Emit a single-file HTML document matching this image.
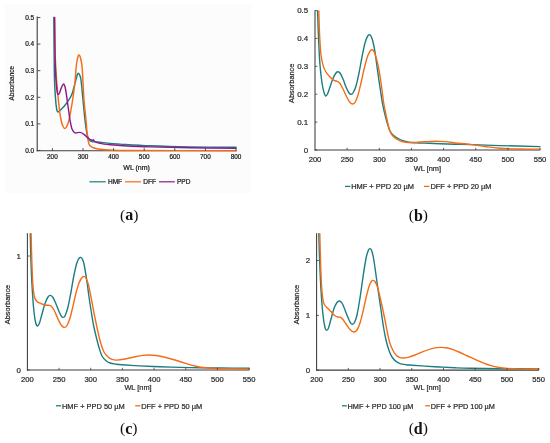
<!DOCTYPE html>
<html><head><meta charset="utf-8"><title>UV-Vis absorbance spectra</title>
<style>html,body{margin:0;padding:0;background:#fff;}svg{display:block;}</style></head>
<body>
<svg width="550" height="443" viewBox="0 0 550 443">
<rect x="0" y="0" width="550" height="443" fill="#ffffff"/>
<rect x="5" y="4" width="246" height="189" fill="#fcfcfc"/>
<line x1="37.20" y1="16.50" x2="37.20" y2="151.30" stroke="#3c3c3c" stroke-width="1.1"/>
<line x1="36.70" y1="150.80" x2="236.50" y2="150.80" stroke="#3c3c3c" stroke-width="1.1"/>
<path d="M53.80,17.50 C53.85,22.92 53.98,39.58 54.10,50.00 C54.22,60.42 54.27,72.00 54.50,80.00 C54.73,88.00 55.17,93.33 55.50,98.00 C55.83,102.67 56.08,105.67 56.50,108.00 C56.92,110.33 57.08,111.92 58.00,112.00 C58.92,112.08 60.67,109.83 62.00,108.50 C63.33,107.17 64.67,105.75 66.00,104.00 C67.33,102.25 69.00,99.67 70.00,98.00 C71.00,96.33 71.33,95.83 72.00,94.00 C72.67,92.17 73.33,89.42 74.00,87.00 C74.67,84.58 75.43,81.57 76.00,79.50 C76.57,77.43 77.00,75.63 77.40,74.60 C77.80,73.57 78.03,73.23 78.40,73.30 C78.77,73.37 79.17,73.88 79.60,75.00 C80.03,76.12 80.43,75.83 81.00,80.00 C81.57,84.17 82.33,93.33 83.00,100.00 C83.67,106.67 84.33,114.33 85.00,120.00 C85.67,125.67 86.33,130.75 87.00,134.00 C87.67,137.25 88.17,138.23 89.00,139.50 C89.83,140.77 90.83,141.20 92.00,141.60 C93.17,142.00 94.67,141.80 96.00,141.90 C97.33,142.00 97.67,141.95 100.00,142.20 C102.33,142.45 106.67,143.08 110.00,143.40 C113.33,143.72 113.33,143.70 120.00,144.10 C126.67,144.50 138.33,145.33 150.00,145.80 C161.67,146.27 175.67,146.65 190.00,146.90 C204.33,147.15 228.33,147.23 236.00,147.30" fill="none" stroke="#1b7d80" stroke-width="1.45" stroke-linecap="round" stroke-linejoin="round"/>
<path d="M54.50,17.50 C54.62,23.75 54.85,44.58 55.20,55.00 C55.55,65.42 55.97,71.50 56.60,80.00 C57.23,88.50 58.27,99.33 59.00,106.00 C59.73,112.67 60.33,116.62 61.00,120.00 C61.67,123.38 62.33,124.87 63.00,126.30 C63.67,127.73 64.33,128.65 65.00,128.60 C65.67,128.55 66.33,127.43 67.00,126.00 C67.67,124.57 68.17,123.67 69.00,120.00 C69.83,116.33 71.00,110.33 72.00,104.00 C73.00,97.67 74.33,87.83 75.00,82.00 C75.67,76.17 75.67,72.50 76.00,69.00 C76.33,65.50 76.63,63.17 77.00,61.00 C77.37,58.83 77.83,57.00 78.20,56.00 C78.57,55.00 78.83,54.75 79.20,55.00 C79.57,55.25 79.93,55.67 80.40,57.50 C80.87,59.33 81.57,61.92 82.00,66.00 C82.43,70.08 82.67,76.33 83.00,82.00 C83.33,87.67 83.50,93.67 84.00,100.00 C84.50,106.33 85.43,114.00 86.00,120.00 C86.57,126.00 86.90,132.00 87.40,136.00 C87.90,140.00 88.40,142.25 89.00,144.00 C89.60,145.75 90.17,145.83 91.00,146.50 C91.83,147.17 92.50,147.55 94.00,148.00 C95.50,148.45 97.33,148.87 100.00,149.20 C102.67,149.53 105.00,149.78 110.00,150.00 C115.00,150.22 109.00,150.38 130.00,150.50 C151.00,150.62 218.33,150.67 236.00,150.70" fill="none" stroke="#f56c16" stroke-width="1.45" stroke-linecap="round" stroke-linejoin="round"/>
<path d="M54.60,17.50 C54.68,24.58 54.87,49.58 55.10,60.00 C55.33,70.42 55.68,74.83 56.00,80.00 C56.32,85.17 56.67,88.60 57.00,91.00 C57.33,93.40 57.58,94.07 58.00,94.40 C58.42,94.73 58.92,94.15 59.50,93.00 C60.08,91.85 60.82,89.00 61.50,87.50 C62.18,86.00 62.93,83.75 63.60,84.00 C64.27,84.25 64.77,85.33 65.50,89.00 C66.23,92.67 67.25,100.83 68.00,106.00 C68.75,111.17 69.33,116.17 70.00,120.00 C70.67,123.83 71.17,126.87 72.00,129.00 C72.83,131.13 73.67,132.23 75.00,132.80 C76.33,133.37 78.50,132.15 80.00,132.40 C81.50,132.65 82.67,133.37 84.00,134.30 C85.33,135.23 86.67,137.00 88.00,138.00 C89.33,139.00 91.07,140.00 92.00,140.30 C92.93,140.60 93.18,139.63 93.60,139.80 C94.02,139.97 93.43,140.70 94.50,141.30 C95.57,141.90 97.42,142.82 100.00,143.40 C102.58,143.98 106.67,144.45 110.00,144.80 C113.33,145.15 113.33,145.15 120.00,145.50 C126.67,145.85 138.33,146.52 150.00,146.90 C161.67,147.28 175.67,147.57 190.00,147.80 C204.33,148.03 228.33,148.22 236.00,148.30" fill="none" stroke="#8e1b8e" stroke-width="1.45" stroke-linecap="round" stroke-linejoin="round"/>
<line x1="37.20" y1="150.50" x2="40.40" y2="150.50" stroke="#3c3c3c" stroke-width="0.9"/>
<text x="34.20" y="152.80" font-size="6.5" text-anchor="end" fill="#1a1a1a" stroke="#1a1a1a" stroke-width="0.22" font-family='"Liberation Sans", sans-serif' >0.0</text>
<line x1="37.20" y1="123.90" x2="40.40" y2="123.90" stroke="#3c3c3c" stroke-width="0.9"/>
<text x="34.20" y="126.20" font-size="6.5" text-anchor="end" fill="#1a1a1a" stroke="#1a1a1a" stroke-width="0.22" font-family='"Liberation Sans", sans-serif' >0.1</text>
<line x1="37.20" y1="97.30" x2="40.40" y2="97.30" stroke="#3c3c3c" stroke-width="0.9"/>
<text x="34.20" y="99.60" font-size="6.5" text-anchor="end" fill="#1a1a1a" stroke="#1a1a1a" stroke-width="0.22" font-family='"Liberation Sans", sans-serif' >0.2</text>
<line x1="37.20" y1="70.70" x2="40.40" y2="70.70" stroke="#3c3c3c" stroke-width="0.9"/>
<text x="34.20" y="73.00" font-size="6.5" text-anchor="end" fill="#1a1a1a" stroke="#1a1a1a" stroke-width="0.22" font-family='"Liberation Sans", sans-serif' >0.3</text>
<line x1="37.20" y1="44.10" x2="40.40" y2="44.10" stroke="#3c3c3c" stroke-width="0.9"/>
<text x="34.20" y="46.40" font-size="6.5" text-anchor="end" fill="#1a1a1a" stroke="#1a1a1a" stroke-width="0.22" font-family='"Liberation Sans", sans-serif' >0.4</text>
<line x1="37.20" y1="17.50" x2="40.40" y2="17.50" stroke="#3c3c3c" stroke-width="0.9"/>
<text x="34.20" y="19.80" font-size="6.5" text-anchor="end" fill="#1a1a1a" stroke="#1a1a1a" stroke-width="0.22" font-family='"Liberation Sans", sans-serif' >0.5</text>
<line x1="52.40" y1="150.80" x2="52.40" y2="148.20" stroke="#3c3c3c" stroke-width="0.9"/>
<text x="52.40" y="158.90" font-size="6.4" text-anchor="middle" fill="#1a1a1a" stroke="#1a1a1a" stroke-width="0.22" font-family='"Liberation Sans", sans-serif' >200</text>
<line x1="83.00" y1="150.80" x2="83.00" y2="148.20" stroke="#3c3c3c" stroke-width="0.9"/>
<text x="83.00" y="158.90" font-size="6.4" text-anchor="middle" fill="#1a1a1a" stroke="#1a1a1a" stroke-width="0.22" font-family='"Liberation Sans", sans-serif' >300</text>
<line x1="113.60" y1="150.80" x2="113.60" y2="148.20" stroke="#3c3c3c" stroke-width="0.9"/>
<text x="113.60" y="158.90" font-size="6.4" text-anchor="middle" fill="#1a1a1a" stroke="#1a1a1a" stroke-width="0.22" font-family='"Liberation Sans", sans-serif' >400</text>
<line x1="144.20" y1="150.80" x2="144.20" y2="148.20" stroke="#3c3c3c" stroke-width="0.9"/>
<text x="144.20" y="158.90" font-size="6.4" text-anchor="middle" fill="#1a1a1a" stroke="#1a1a1a" stroke-width="0.22" font-family='"Liberation Sans", sans-serif' >500</text>
<line x1="174.80" y1="150.80" x2="174.80" y2="148.20" stroke="#3c3c3c" stroke-width="0.9"/>
<text x="174.80" y="158.90" font-size="6.4" text-anchor="middle" fill="#1a1a1a" stroke="#1a1a1a" stroke-width="0.22" font-family='"Liberation Sans", sans-serif' >600</text>
<line x1="205.40" y1="150.80" x2="205.40" y2="148.20" stroke="#3c3c3c" stroke-width="0.9"/>
<text x="205.40" y="158.90" font-size="6.4" text-anchor="middle" fill="#1a1a1a" stroke="#1a1a1a" stroke-width="0.22" font-family='"Liberation Sans", sans-serif' >700</text>
<line x1="236.00" y1="150.80" x2="236.00" y2="148.20" stroke="#3c3c3c" stroke-width="0.9"/>
<text x="236.00" y="158.90" font-size="6.4" text-anchor="middle" fill="#1a1a1a" stroke="#1a1a1a" stroke-width="0.22" font-family='"Liberation Sans", sans-serif' >800</text>
<text x="136.60" y="169.90" font-size="7.0" text-anchor="middle" fill="#1a1a1a" stroke="#1a1a1a" stroke-width="0.22" font-family='"Liberation Sans", sans-serif' >WL (nm)</text>
<text transform="translate(13.9,83.2) rotate(-90)" font-size="6.5" text-anchor="middle" fill="#1a1a1a" stroke="#1a1a1a" stroke-width="0.2" font-family='"Liberation Sans", sans-serif'>Absorbance</text>
<line x1="89.40" y1="181.80" x2="105.80" y2="181.80" stroke="#1b7d80" stroke-width="1.2"/>
<text x="108.00" y="184.10" font-size="6.5" text-anchor="start" fill="#1a1a1a" stroke="#1a1a1a" stroke-width="0.22" font-family='"Liberation Sans", sans-serif' >HMF</text>
<line x1="125.00" y1="181.80" x2="141.00" y2="181.80" stroke="#f56c16" stroke-width="1.2"/>
<text x="143.30" y="184.10" font-size="6.5" text-anchor="start" fill="#1a1a1a" stroke="#1a1a1a" stroke-width="0.22" font-family='"Liberation Sans", sans-serif' >DFF</text>
<line x1="159.00" y1="181.80" x2="174.80" y2="181.80" stroke="#8e1b8e" stroke-width="1.2"/>
<text x="177.00" y="184.10" font-size="6.5" text-anchor="start" fill="#1a1a1a" stroke="#1a1a1a" stroke-width="0.22" font-family='"Liberation Sans", sans-serif' >PPD</text>
<text x="129.30" y="220.20" font-size="15.6" text-anchor="middle" fill="#111" font-family='"Liberation Serif", serif'><tspan dy="-0.5">(</tspan><tspan font-weight="bold" font-size="16" dy="0.5">a</tspan><tspan dy="-0.5">)</tspan></text>
<line x1="315.00" y1="10.20" x2="315.00" y2="150.50" stroke="#3c3c3c" stroke-width="1.05"/>
<line x1="314.50" y1="150.00" x2="540.30" y2="150.00" stroke="#3c3c3c" stroke-width="1.05"/>
<path d="M317.60,11.00 C317.77,15.83 318.20,31.00 318.60,40.00 C319.00,49.00 319.43,57.83 320.00,65.00 C320.57,72.17 321.33,78.42 322.00,83.00 C322.67,87.58 323.40,90.33 324.00,92.50 C324.60,94.67 325.02,95.75 325.60,96.00 C326.18,96.25 326.77,95.50 327.50,94.00 C328.23,92.50 329.08,89.58 330.00,87.00 C330.92,84.42 332.00,80.83 333.00,78.50 C334.00,76.17 335.17,74.12 336.00,73.00 C336.83,71.88 337.33,71.80 338.00,71.80 C338.67,71.80 339.17,71.80 340.00,73.00 C340.83,74.20 342.00,76.67 343.00,79.00 C344.00,81.33 345.00,84.67 346.00,87.00 C347.00,89.33 348.17,91.78 349.00,93.00 C349.83,94.22 350.33,94.30 351.00,94.30 C351.67,94.30 352.17,94.38 353.00,93.00 C353.83,91.62 355.00,89.33 356.00,86.00 C357.00,82.67 358.00,77.83 359.00,73.00 C360.00,68.17 361.00,62.00 362.00,57.00 C363.00,52.00 364.08,46.45 365.00,43.00 C365.92,39.55 366.77,37.67 367.50,36.30 C368.23,34.93 368.78,34.77 369.40,34.80 C370.02,34.83 370.60,35.30 371.20,36.50 C371.80,37.70 372.37,39.42 373.00,42.00 C373.63,44.58 374.37,48.17 375.00,52.00 C375.63,55.83 376.20,60.67 376.80,65.00 C377.40,69.33 378.00,73.83 378.60,78.00 C379.20,82.17 379.75,85.75 380.40,90.00 C381.05,94.25 381.63,98.98 382.50,103.50 C383.37,108.02 384.72,113.52 385.60,117.10 C386.48,120.68 387.08,122.73 387.80,125.00 C388.52,127.27 389.12,129.13 389.90,130.70 C390.68,132.27 391.60,133.40 392.50,134.40 C393.40,135.40 394.30,135.98 395.30,136.70 C396.30,137.42 397.37,138.08 398.50,138.70 C399.63,139.32 400.37,139.82 402.10,140.40 C403.83,140.98 406.63,141.80 408.90,142.20 C411.17,142.60 412.32,142.62 415.70,142.80 C419.08,142.98 425.15,143.15 429.20,143.30 C433.25,143.45 435.70,143.55 440.00,143.70 C444.30,143.85 449.67,144.05 455.00,144.20 C460.33,144.35 464.50,144.37 472.00,144.60 C479.50,144.83 488.67,145.27 500.00,145.60 C511.33,145.93 533.33,146.43 540.00,146.60" fill="none" stroke="#1b7d80" stroke-width="1.4" stroke-linecap="round" stroke-linejoin="round"/>
<path d="M318.80,11.00 C318.93,15.00 319.23,27.67 319.60,35.00 C319.97,42.33 320.37,49.77 321.00,55.00 C321.63,60.23 322.57,63.57 323.40,66.40 C324.23,69.23 324.90,70.23 326.00,72.00 C327.10,73.77 328.67,75.62 330.00,77.00 C331.33,78.38 332.77,79.55 334.00,80.30 C335.23,81.05 336.40,80.97 337.40,81.50 C338.40,82.03 339.07,82.25 340.00,83.50 C340.93,84.75 341.83,86.67 343.00,89.00 C344.17,91.33 345.83,95.25 347.00,97.50 C348.17,99.75 349.07,101.42 350.00,102.50 C350.93,103.58 351.77,104.00 352.60,104.00 C353.43,104.00 354.10,104.00 355.00,102.50 C355.90,101.00 357.00,98.25 358.00,95.00 C359.00,91.75 360.00,87.25 361.00,83.00 C362.00,78.75 363.00,73.67 364.00,69.50 C365.00,65.33 366.00,61.05 367.00,58.00 C368.00,54.95 369.20,52.58 370.00,51.20 C370.80,49.82 371.13,49.65 371.80,49.70 C372.47,49.75 373.17,49.78 374.00,51.50 C374.83,53.22 375.97,56.92 376.80,60.00 C377.63,63.08 378.37,66.67 379.00,70.00 C379.63,73.33 380.10,76.67 380.60,80.00 C381.10,83.33 381.47,86.08 382.00,90.00 C382.53,93.92 383.05,98.98 383.80,103.50 C384.55,108.02 385.77,113.52 386.50,117.10 C387.23,120.68 387.65,122.73 388.20,125.00 C388.75,127.27 389.12,128.97 389.80,130.70 C390.48,132.43 391.38,134.17 392.30,135.40 C393.22,136.63 394.27,137.33 395.30,138.10 C396.33,138.87 397.37,139.43 398.50,140.00 C399.63,140.57 400.37,141.07 402.10,141.50 C403.83,141.93 406.63,142.45 408.90,142.60 C411.17,142.75 413.02,142.53 415.70,142.40 C418.38,142.27 421.78,142.00 425.00,141.80 C428.22,141.60 431.67,141.23 435.00,141.20 C438.33,141.17 441.17,141.27 445.00,141.60 C448.83,141.93 453.50,142.70 458.00,143.20 C462.50,143.70 467.50,144.05 472.00,144.60 C476.50,145.15 480.33,145.90 485.00,146.50 C489.67,147.10 494.17,147.78 500.00,148.20 C505.83,148.62 513.33,148.83 520.00,149.00 C526.67,149.17 536.67,149.17 540.00,149.20" fill="none" stroke="#f56c16" stroke-width="1.4" stroke-linecap="round" stroke-linejoin="round"/>
<line x1="315.00" y1="150.00" x2="317.40" y2="150.00" stroke="#3c3c3c" stroke-width="0.8"/>
<text x="308.20" y="152.80" font-size="7.9" text-anchor="end" fill="#2b2b2b" stroke="#2b2b2b" stroke-width="0.22" font-family='"Liberation Sans", sans-serif' >0</text>
<line x1="315.00" y1="122.10" x2="317.40" y2="122.10" stroke="#3c3c3c" stroke-width="0.8"/>
<text x="308.20" y="124.90" font-size="7.9" text-anchor="end" fill="#2b2b2b" stroke="#2b2b2b" stroke-width="0.22" font-family='"Liberation Sans", sans-serif' >0.1</text>
<line x1="315.00" y1="94.20" x2="317.40" y2="94.20" stroke="#3c3c3c" stroke-width="0.8"/>
<text x="308.20" y="97.00" font-size="7.9" text-anchor="end" fill="#2b2b2b" stroke="#2b2b2b" stroke-width="0.22" font-family='"Liberation Sans", sans-serif' >0.2</text>
<line x1="315.00" y1="66.30" x2="317.40" y2="66.30" stroke="#3c3c3c" stroke-width="0.8"/>
<text x="308.20" y="69.10" font-size="7.9" text-anchor="end" fill="#2b2b2b" stroke="#2b2b2b" stroke-width="0.22" font-family='"Liberation Sans", sans-serif' >0.3</text>
<line x1="315.00" y1="38.40" x2="317.40" y2="38.40" stroke="#3c3c3c" stroke-width="0.8"/>
<text x="308.20" y="41.20" font-size="7.9" text-anchor="end" fill="#2b2b2b" stroke="#2b2b2b" stroke-width="0.22" font-family='"Liberation Sans", sans-serif' >0.4</text>
<line x1="315.00" y1="10.60" x2="317.40" y2="10.60" stroke="#3c3c3c" stroke-width="0.8"/>
<text x="308.20" y="13.40" font-size="7.9" text-anchor="end" fill="#2b2b2b" stroke="#2b2b2b" stroke-width="0.22" font-family='"Liberation Sans", sans-serif' >0.5</text>
<text x="315.00" y="161.60" font-size="7.6000000000000005" text-anchor="middle" fill="#2b2b2b" stroke="#2b2b2b" stroke-width="0.22" font-family='"Liberation Sans", sans-serif' >200</text>
<line x1="347.14" y1="150.00" x2="347.14" y2="147.80" stroke="#3c3c3c" stroke-width="0.8"/>
<text x="347.14" y="161.60" font-size="7.6000000000000005" text-anchor="middle" fill="#2b2b2b" stroke="#2b2b2b" stroke-width="0.22" font-family='"Liberation Sans", sans-serif' >250</text>
<line x1="379.29" y1="150.00" x2="379.29" y2="147.80" stroke="#3c3c3c" stroke-width="0.8"/>
<text x="379.29" y="161.60" font-size="7.6000000000000005" text-anchor="middle" fill="#2b2b2b" stroke="#2b2b2b" stroke-width="0.22" font-family='"Liberation Sans", sans-serif' >300</text>
<line x1="411.43" y1="150.00" x2="411.43" y2="147.80" stroke="#3c3c3c" stroke-width="0.8"/>
<text x="411.43" y="161.60" font-size="7.6000000000000005" text-anchor="middle" fill="#2b2b2b" stroke="#2b2b2b" stroke-width="0.22" font-family='"Liberation Sans", sans-serif' >350</text>
<line x1="443.57" y1="150.00" x2="443.57" y2="147.80" stroke="#3c3c3c" stroke-width="0.8"/>
<text x="443.57" y="161.60" font-size="7.6000000000000005" text-anchor="middle" fill="#2b2b2b" stroke="#2b2b2b" stroke-width="0.22" font-family='"Liberation Sans", sans-serif' >400</text>
<line x1="475.71" y1="150.00" x2="475.71" y2="147.80" stroke="#3c3c3c" stroke-width="0.8"/>
<text x="475.71" y="161.60" font-size="7.6000000000000005" text-anchor="middle" fill="#2b2b2b" stroke="#2b2b2b" stroke-width="0.22" font-family='"Liberation Sans", sans-serif' >450</text>
<line x1="507.86" y1="150.00" x2="507.86" y2="147.80" stroke="#3c3c3c" stroke-width="0.8"/>
<text x="507.86" y="161.60" font-size="7.6000000000000005" text-anchor="middle" fill="#2b2b2b" stroke="#2b2b2b" stroke-width="0.22" font-family='"Liberation Sans", sans-serif' >500</text>
<line x1="540.00" y1="150.00" x2="540.00" y2="147.80" stroke="#3c3c3c" stroke-width="0.8"/>
<text x="540.00" y="161.60" font-size="7.6000000000000005" text-anchor="middle" fill="#2b2b2b" stroke="#2b2b2b" stroke-width="0.22" font-family='"Liberation Sans", sans-serif' >550</text>
<text x="427.40" y="171.00" font-size="7.4" text-anchor="middle" fill="#2b2b2b" stroke="#2b2b2b" stroke-width="0.22" font-family='"Liberation Sans", sans-serif' >WL [nm]</text>
<text transform="translate(294.00,83.30) rotate(-90)" font-size="7.4" text-anchor="middle" fill="#2b2b2b" stroke="#2b2b2b" stroke-width="0.22" font-family='"Liberation Sans", sans-serif'>Absorbance</text>
<line x1="345.00" y1="186.40" x2="350.40" y2="186.40" stroke="#1b7d80" stroke-width="1.3"/>
<text x="351.20" y="189.10" font-size="7.45" text-anchor="start" fill="#2b2b2b" stroke="#2b2b2b" stroke-width="0.22" font-family='"Liberation Sans", sans-serif' >HMF + PPD 20 µM</text>
<line x1="424.00" y1="186.40" x2="429.40" y2="186.40" stroke="#f56c16" stroke-width="1.3"/>
<text x="430.40" y="189.10" font-size="7.45" text-anchor="start" fill="#2b2b2b" stroke="#2b2b2b" stroke-width="0.22" font-family='"Liberation Sans", sans-serif' >DFF + PPD 20 µM</text>
<text x="418.40" y="220.50" font-size="15.6" text-anchor="middle" fill="#111" font-family='"Liberation Serif", serif'><tspan dy="-0.5">(</tspan><tspan font-weight="bold" font-size="16" dy="0.5">b</tspan><tspan dy="-0.5">)</tspan></text>
<line x1="27.40" y1="233.20" x2="27.40" y2="370.50" stroke="#3c3c3c" stroke-width="1.05"/>
<line x1="26.90" y1="370.00" x2="249.40" y2="370.00" stroke="#3c3c3c" stroke-width="1.05"/>
<path d="M30.30,233.80 C30.40,238.17 30.62,251.47 30.90,260.00 C31.18,268.53 31.55,277.00 32.00,285.00 C32.45,293.00 33.02,301.83 33.60,308.00 C34.18,314.17 34.87,319.00 35.50,322.00 C36.13,325.00 36.73,325.83 37.40,326.00 C38.07,326.17 38.73,325.00 39.50,323.00 C40.27,321.00 41.08,317.25 42.00,314.00 C42.92,310.75 44.00,306.33 45.00,303.50 C46.00,300.67 47.10,298.35 48.00,297.00 C48.90,295.65 49.57,295.32 50.40,295.40 C51.23,295.48 52.07,296.07 53.00,297.50 C53.93,298.93 55.00,301.67 56.00,304.00 C57.00,306.33 58.08,309.45 59.00,311.50 C59.92,313.55 60.83,315.32 61.50,316.30 C62.17,317.28 62.42,317.45 63.00,317.40 C63.58,317.35 64.17,317.73 65.00,316.00 C65.83,314.27 67.00,311.00 68.00,307.00 C69.00,303.00 70.00,297.33 71.00,292.00 C72.00,286.67 73.00,279.92 74.00,275.00 C75.00,270.08 76.12,265.33 77.00,262.50 C77.88,259.67 78.70,258.85 79.30,258.00 C79.90,257.15 80.15,257.32 80.60,257.40 C81.05,257.48 81.43,257.40 82.00,258.50 C82.57,259.60 83.17,260.08 84.00,264.00 C84.83,267.92 86.17,276.50 87.00,282.00 C87.83,287.50 88.33,292.33 89.00,297.00 C89.67,301.67 90.25,305.33 91.00,310.00 C91.75,314.67 92.67,320.67 93.50,325.00 C94.33,329.33 95.08,332.25 96.00,336.00 C96.92,339.75 98.00,344.17 99.00,347.50 C100.00,350.83 100.83,353.78 102.00,356.00 C103.17,358.22 104.67,359.63 106.00,360.80 C107.33,361.97 108.33,362.43 110.00,363.00 C111.67,363.57 114.00,363.90 116.00,364.20 C118.00,364.50 118.00,364.52 122.00,364.80 C126.00,365.08 133.67,365.57 140.00,365.90 C146.33,366.23 153.33,366.55 160.00,366.80 C166.67,367.05 173.33,367.23 180.00,367.40 C186.67,367.57 193.33,367.70 200.00,367.80 C206.67,367.90 211.83,367.93 220.00,368.00 C228.17,368.07 244.17,368.17 249.00,368.20" fill="none" stroke="#1b7d80" stroke-width="1.4" stroke-linecap="round" stroke-linejoin="round"/>
<path d="M31.10,233.80 C31.22,238.17 31.50,251.47 31.80,260.00 C32.10,268.53 32.45,278.83 32.90,285.00 C33.35,291.17 33.82,294.25 34.50,297.00 C35.18,299.75 35.92,300.40 37.00,301.50 C38.08,302.60 39.67,303.02 41.00,303.60 C42.33,304.18 43.75,304.72 45.00,305.00 C46.25,305.28 47.50,305.13 48.50,305.30 C49.50,305.47 50.08,305.22 51.00,306.00 C51.92,306.78 52.83,307.83 54.00,310.00 C55.17,312.17 56.75,316.42 58.00,319.00 C59.25,321.58 60.43,324.10 61.50,325.50 C62.57,326.90 63.48,327.40 64.40,327.40 C65.32,327.40 66.07,327.07 67.00,325.50 C67.93,323.93 69.00,321.25 70.00,318.00 C71.00,314.75 72.00,310.17 73.00,306.00 C74.00,301.83 75.00,296.83 76.00,293.00 C77.00,289.17 78.00,285.58 79.00,283.00 C80.00,280.42 81.17,278.57 82.00,277.50 C82.83,276.43 83.33,276.52 84.00,276.60 C84.67,276.68 85.25,276.60 86.00,278.00 C86.75,279.40 87.67,281.83 88.50,285.00 C89.33,288.17 90.08,292.33 91.00,297.00 C91.92,301.67 92.83,307.17 94.00,313.00 C95.17,318.83 96.83,326.83 98.00,332.00 C99.17,337.17 100.00,340.67 101.00,344.00 C102.00,347.33 102.83,349.83 104.00,352.00 C105.17,354.17 106.67,355.77 108.00,357.00 C109.33,358.23 110.50,358.88 112.00,359.40 C113.50,359.92 114.83,360.17 117.00,360.10 C119.17,360.03 122.00,359.55 125.00,359.00 C128.00,358.45 132.00,357.40 135.00,356.80 C138.00,356.20 140.67,355.70 143.00,355.40 C145.33,355.10 146.83,354.98 149.00,355.00 C151.17,355.02 153.33,355.13 156.00,355.50 C158.67,355.87 161.83,356.45 165.00,357.20 C168.17,357.95 171.57,358.98 175.00,360.00 C178.43,361.02 182.27,362.30 185.60,363.30 C188.93,364.30 192.43,365.35 195.00,366.00 C197.57,366.65 198.50,366.83 201.00,367.20 C203.50,367.57 206.83,367.95 210.00,368.20 C213.17,368.45 213.50,368.57 220.00,368.70 C226.50,368.83 244.17,368.95 249.00,369.00" fill="none" stroke="#f56c16" stroke-width="1.4" stroke-linecap="round" stroke-linejoin="round"/>
<line x1="27.40" y1="370.00" x2="29.80" y2="370.00" stroke="#3c3c3c" stroke-width="0.8"/>
<text x="21.00" y="372.80" font-size="7.9" text-anchor="end" fill="#2b2b2b" stroke="#2b2b2b" stroke-width="0.22" font-family='"Liberation Sans", sans-serif' >0</text>
<line x1="27.40" y1="256.00" x2="29.80" y2="256.00" stroke="#3c3c3c" stroke-width="0.8"/>
<text x="21.00" y="258.80" font-size="7.9" text-anchor="end" fill="#2b2b2b" stroke="#2b2b2b" stroke-width="0.22" font-family='"Liberation Sans", sans-serif' >1</text>
<text x="27.40" y="381.60" font-size="7.6000000000000005" text-anchor="middle" fill="#2b2b2b" stroke="#2b2b2b" stroke-width="0.22" font-family='"Liberation Sans", sans-serif' >200</text>
<line x1="59.07" y1="370.00" x2="59.07" y2="367.80" stroke="#3c3c3c" stroke-width="0.8"/>
<text x="59.07" y="381.60" font-size="7.6000000000000005" text-anchor="middle" fill="#2b2b2b" stroke="#2b2b2b" stroke-width="0.22" font-family='"Liberation Sans", sans-serif' >250</text>
<line x1="90.74" y1="370.00" x2="90.74" y2="367.80" stroke="#3c3c3c" stroke-width="0.8"/>
<text x="90.74" y="381.60" font-size="7.6000000000000005" text-anchor="middle" fill="#2b2b2b" stroke="#2b2b2b" stroke-width="0.22" font-family='"Liberation Sans", sans-serif' >300</text>
<line x1="122.41" y1="370.00" x2="122.41" y2="367.80" stroke="#3c3c3c" stroke-width="0.8"/>
<text x="122.41" y="381.60" font-size="7.6000000000000005" text-anchor="middle" fill="#2b2b2b" stroke="#2b2b2b" stroke-width="0.22" font-family='"Liberation Sans", sans-serif' >350</text>
<line x1="154.09" y1="370.00" x2="154.09" y2="367.80" stroke="#3c3c3c" stroke-width="0.8"/>
<text x="154.09" y="381.60" font-size="7.6000000000000005" text-anchor="middle" fill="#2b2b2b" stroke="#2b2b2b" stroke-width="0.22" font-family='"Liberation Sans", sans-serif' >400</text>
<line x1="185.76" y1="370.00" x2="185.76" y2="367.80" stroke="#3c3c3c" stroke-width="0.8"/>
<text x="185.76" y="381.60" font-size="7.6000000000000005" text-anchor="middle" fill="#2b2b2b" stroke="#2b2b2b" stroke-width="0.22" font-family='"Liberation Sans", sans-serif' >450</text>
<line x1="217.43" y1="370.00" x2="217.43" y2="367.80" stroke="#3c3c3c" stroke-width="0.8"/>
<text x="217.43" y="381.60" font-size="7.6000000000000005" text-anchor="middle" fill="#2b2b2b" stroke="#2b2b2b" stroke-width="0.22" font-family='"Liberation Sans", sans-serif' >500</text>
<line x1="249.10" y1="370.00" x2="249.10" y2="367.80" stroke="#3c3c3c" stroke-width="0.8"/>
<text x="249.10" y="381.60" font-size="7.6000000000000005" text-anchor="middle" fill="#2b2b2b" stroke="#2b2b2b" stroke-width="0.22" font-family='"Liberation Sans", sans-serif' >550</text>
<text x="138.00" y="390.30" font-size="7.4" text-anchor="middle" fill="#2b2b2b" stroke="#2b2b2b" stroke-width="0.22" font-family='"Liberation Sans", sans-serif' >WL [nm]</text>
<text transform="translate(9.90,304.50) rotate(-90)" font-size="7.4" text-anchor="middle" fill="#2b2b2b" stroke="#2b2b2b" stroke-width="0.22" font-family='"Liberation Sans", sans-serif'>Absorbance</text>
<line x1="56.00" y1="405.80" x2="61.20" y2="405.80" stroke="#1b7d80" stroke-width="1.3"/>
<text x="62.00" y="408.50" font-size="7.45" text-anchor="start" fill="#2b2b2b" stroke="#2b2b2b" stroke-width="0.22" font-family='"Liberation Sans", sans-serif' >HMF + PPD 50 µM</text>
<line x1="135.20" y1="405.80" x2="140.40" y2="405.80" stroke="#f56c16" stroke-width="1.3"/>
<text x="141.20" y="408.50" font-size="7.45" text-anchor="start" fill="#2b2b2b" stroke="#2b2b2b" stroke-width="0.22" font-family='"Liberation Sans", sans-serif' >DFF + PPD 50 µM</text>
<text x="128.70" y="433.50" font-size="15.6" text-anchor="middle" fill="#111" font-family='"Liberation Serif", serif'><tspan dy="-0.5">(</tspan><tspan font-weight="bold" font-size="16" dy="0.5">c</tspan><tspan dy="-0.5">)</tspan></text>
<line x1="316.60" y1="233.20" x2="316.60" y2="370.60" stroke="#3c3c3c" stroke-width="1.05"/>
<line x1="316.10" y1="370.10" x2="539.00" y2="370.10" stroke="#3c3c3c" stroke-width="1.05"/>
<path d="M318.80,233.80 C318.93,238.17 319.23,250.63 319.60,260.00 C319.97,269.37 320.43,280.83 321.00,290.00 C321.57,299.17 322.33,308.75 323.00,315.00 C323.67,321.25 324.40,324.93 325.00,327.50 C325.60,330.07 326.02,330.32 326.60,330.40 C327.18,330.48 327.77,329.90 328.50,328.00 C329.23,326.10 330.08,322.25 331.00,319.00 C331.92,315.75 333.00,311.25 334.00,308.50 C335.00,305.75 336.10,303.75 337.00,302.50 C337.90,301.25 338.57,300.92 339.40,301.00 C340.23,301.08 341.07,301.50 342.00,303.00 C342.93,304.50 344.00,307.58 345.00,310.00 C346.00,312.42 347.08,315.37 348.00,317.50 C348.92,319.63 349.77,321.67 350.50,322.80 C351.23,323.93 351.73,324.35 352.40,324.30 C353.07,324.25 353.73,324.05 354.50,322.50 C355.27,320.95 356.08,319.08 357.00,315.00 C357.92,310.92 359.00,304.33 360.00,298.00 C361.00,291.67 362.00,283.58 363.00,277.00 C364.00,270.42 365.12,262.92 366.00,258.50 C366.88,254.08 367.63,252.15 368.30,250.50 C368.97,248.85 369.45,248.60 370.00,248.60 C370.55,248.60 371.02,248.93 371.60,250.50 C372.18,252.07 372.77,253.92 373.50,258.00 C374.23,262.08 375.17,269.17 376.00,275.00 C376.83,280.83 377.67,287.17 378.50,293.00 C379.33,298.83 380.17,304.33 381.00,310.00 C381.83,315.67 382.67,322.00 383.50,327.00 C384.33,332.00 385.08,336.08 386.00,340.00 C386.92,343.92 388.00,347.67 389.00,350.50 C390.00,353.33 390.83,355.18 392.00,357.00 C393.17,358.82 394.67,360.30 396.00,361.40 C397.33,362.50 398.33,363.05 400.00,363.60 C401.67,364.15 404.00,364.43 406.00,364.70 C408.00,364.97 408.83,364.97 412.00,365.20 C415.17,365.43 420.33,365.80 425.00,366.10 C429.67,366.40 435.00,366.72 440.00,367.00 C445.00,367.28 450.00,367.58 455.00,367.80 C460.00,368.02 462.50,368.15 470.00,368.30 C477.50,368.45 488.57,368.60 500.00,368.70 C511.43,368.80 532.17,368.87 538.60,368.90" fill="none" stroke="#1b7d80" stroke-width="1.4" stroke-linecap="round" stroke-linejoin="round"/>
<path d="M319.80,233.80 C319.92,238.17 320.22,251.47 320.50,260.00 C320.78,268.53 321.08,278.33 321.50,285.00 C321.92,291.67 322.42,296.58 323.00,300.00 C323.58,303.42 324.17,304.08 325.00,305.50 C325.83,306.92 327.00,307.50 328.00,308.50 C329.00,309.50 330.00,310.42 331.00,311.50 C332.00,312.58 333.00,314.12 334.00,315.00 C335.00,315.88 336.00,316.43 337.00,316.80 C338.00,317.17 339.08,316.83 340.00,317.20 C340.92,317.57 341.50,317.87 342.50,319.00 C343.50,320.13 344.75,322.25 346.00,324.00 C347.25,325.75 348.67,328.17 350.00,329.50 C351.33,330.83 352.83,331.92 354.00,332.00 C355.17,332.08 356.00,331.50 357.00,330.00 C358.00,328.50 359.00,326.08 360.00,323.00 C361.00,319.92 362.00,315.67 363.00,311.50 C364.00,307.33 365.00,302.17 366.00,298.00 C367.00,293.83 368.08,289.28 369.00,286.50 C369.92,283.72 370.83,282.32 371.50,281.30 C372.17,280.28 372.42,280.37 373.00,280.40 C373.58,280.43 374.25,280.40 375.00,281.50 C375.75,282.60 376.67,284.42 377.50,287.00 C378.33,289.58 379.17,293.50 380.00,297.00 C380.83,300.50 381.67,304.17 382.50,308.00 C383.33,311.83 384.17,315.83 385.00,320.00 C385.83,324.17 386.67,329.08 387.50,333.00 C388.33,336.92 389.08,340.58 390.00,343.50 C390.92,346.42 392.00,348.58 393.00,350.50 C394.00,352.42 394.92,353.85 396.00,355.00 C397.08,356.15 398.33,356.90 399.50,357.40 C400.67,357.90 401.58,358.00 403.00,358.00 C404.42,358.00 406.00,357.90 408.00,357.40 C410.00,356.90 412.50,355.97 415.00,355.00 C417.50,354.03 420.33,352.63 423.00,351.60 C425.67,350.57 428.67,349.47 431.00,348.80 C433.33,348.13 435.33,347.83 437.00,347.60 C438.67,347.37 439.50,347.37 441.00,347.40 C442.50,347.43 444.00,347.43 446.00,347.80 C448.00,348.17 450.67,348.82 453.00,349.60 C455.33,350.38 457.58,351.43 460.00,352.50 C462.42,353.57 464.90,354.82 467.50,356.00 C470.10,357.18 473.02,358.47 475.60,359.60 C478.18,360.73 480.43,361.80 483.00,362.80 C485.57,363.80 488.33,364.82 491.00,365.60 C493.67,366.38 496.33,367.02 499.00,367.50 C501.67,367.98 503.50,368.23 507.00,368.50 C510.50,368.77 514.73,368.97 520.00,369.10 C525.27,369.23 535.50,369.27 538.60,369.30" fill="none" stroke="#f56c16" stroke-width="1.4" stroke-linecap="round" stroke-linejoin="round"/>
<line x1="316.60" y1="370.10" x2="319.00" y2="370.10" stroke="#3c3c3c" stroke-width="0.8"/>
<text x="310.20" y="372.90" font-size="7.9" text-anchor="end" fill="#2b2b2b" stroke="#2b2b2b" stroke-width="0.22" font-family='"Liberation Sans", sans-serif' >0</text>
<line x1="316.60" y1="315.40" x2="319.00" y2="315.40" stroke="#3c3c3c" stroke-width="0.8"/>
<text x="310.20" y="318.20" font-size="7.9" text-anchor="end" fill="#2b2b2b" stroke="#2b2b2b" stroke-width="0.22" font-family='"Liberation Sans", sans-serif' >1</text>
<line x1="316.60" y1="260.50" x2="319.00" y2="260.50" stroke="#3c3c3c" stroke-width="0.8"/>
<text x="310.20" y="263.30" font-size="7.9" text-anchor="end" fill="#2b2b2b" stroke="#2b2b2b" stroke-width="0.22" font-family='"Liberation Sans", sans-serif' >2</text>
<text x="316.60" y="381.70" font-size="7.6000000000000005" text-anchor="middle" fill="#2b2b2b" stroke="#2b2b2b" stroke-width="0.22" font-family='"Liberation Sans", sans-serif' >200</text>
<line x1="348.33" y1="370.10" x2="348.33" y2="367.90" stroke="#3c3c3c" stroke-width="0.8"/>
<text x="348.33" y="381.70" font-size="7.6000000000000005" text-anchor="middle" fill="#2b2b2b" stroke="#2b2b2b" stroke-width="0.22" font-family='"Liberation Sans", sans-serif' >250</text>
<line x1="380.06" y1="370.10" x2="380.06" y2="367.90" stroke="#3c3c3c" stroke-width="0.8"/>
<text x="380.06" y="381.70" font-size="7.6000000000000005" text-anchor="middle" fill="#2b2b2b" stroke="#2b2b2b" stroke-width="0.22" font-family='"Liberation Sans", sans-serif' >300</text>
<line x1="411.79" y1="370.10" x2="411.79" y2="367.90" stroke="#3c3c3c" stroke-width="0.8"/>
<text x="411.79" y="381.70" font-size="7.6000000000000005" text-anchor="middle" fill="#2b2b2b" stroke="#2b2b2b" stroke-width="0.22" font-family='"Liberation Sans", sans-serif' >350</text>
<line x1="443.51" y1="370.10" x2="443.51" y2="367.90" stroke="#3c3c3c" stroke-width="0.8"/>
<text x="443.51" y="381.70" font-size="7.6000000000000005" text-anchor="middle" fill="#2b2b2b" stroke="#2b2b2b" stroke-width="0.22" font-family='"Liberation Sans", sans-serif' >400</text>
<line x1="475.24" y1="370.10" x2="475.24" y2="367.90" stroke="#3c3c3c" stroke-width="0.8"/>
<text x="475.24" y="381.70" font-size="7.6000000000000005" text-anchor="middle" fill="#2b2b2b" stroke="#2b2b2b" stroke-width="0.22" font-family='"Liberation Sans", sans-serif' >450</text>
<line x1="506.97" y1="370.10" x2="506.97" y2="367.90" stroke="#3c3c3c" stroke-width="0.8"/>
<text x="506.97" y="381.70" font-size="7.6000000000000005" text-anchor="middle" fill="#2b2b2b" stroke="#2b2b2b" stroke-width="0.22" font-family='"Liberation Sans", sans-serif' >500</text>
<line x1="538.70" y1="370.10" x2="538.70" y2="367.90" stroke="#3c3c3c" stroke-width="0.8"/>
<text x="538.70" y="381.70" font-size="7.6000000000000005" text-anchor="middle" fill="#2b2b2b" stroke="#2b2b2b" stroke-width="0.22" font-family='"Liberation Sans", sans-serif' >550</text>
<text x="427.20" y="390.30" font-size="7.4" text-anchor="middle" fill="#2b2b2b" stroke="#2b2b2b" stroke-width="0.22" font-family='"Liberation Sans", sans-serif' >WL [nm]</text>
<text transform="translate(298.90,304.50) rotate(-90)" font-size="7.4" text-anchor="middle" fill="#2b2b2b" stroke="#2b2b2b" stroke-width="0.22" font-family='"Liberation Sans", sans-serif'>Absorbance</text>
<line x1="342.00" y1="405.80" x2="346.80" y2="405.80" stroke="#1b7d80" stroke-width="1.3"/>
<text x="347.60" y="408.50" font-size="7.3" text-anchor="start" fill="#2b2b2b" stroke="#2b2b2b" stroke-width="0.22" font-family='"Liberation Sans", sans-serif' >HMF + PPD 100 µM</text>
<line x1="425.20" y1="405.80" x2="430.00" y2="405.80" stroke="#f56c16" stroke-width="1.3"/>
<text x="430.80" y="408.50" font-size="7.3" text-anchor="start" fill="#2b2b2b" stroke="#2b2b2b" stroke-width="0.22" font-family='"Liberation Sans", sans-serif' >DFF + PPD 100 µM</text>
<text x="418.30" y="433.60" font-size="15.6" text-anchor="middle" fill="#111" font-family='"Liberation Serif", serif'><tspan dy="-0.5">(</tspan><tspan font-weight="bold" font-size="16" dy="0.5">d</tspan><tspan dy="-0.5">)</tspan></text>
</svg>
</body></html>
